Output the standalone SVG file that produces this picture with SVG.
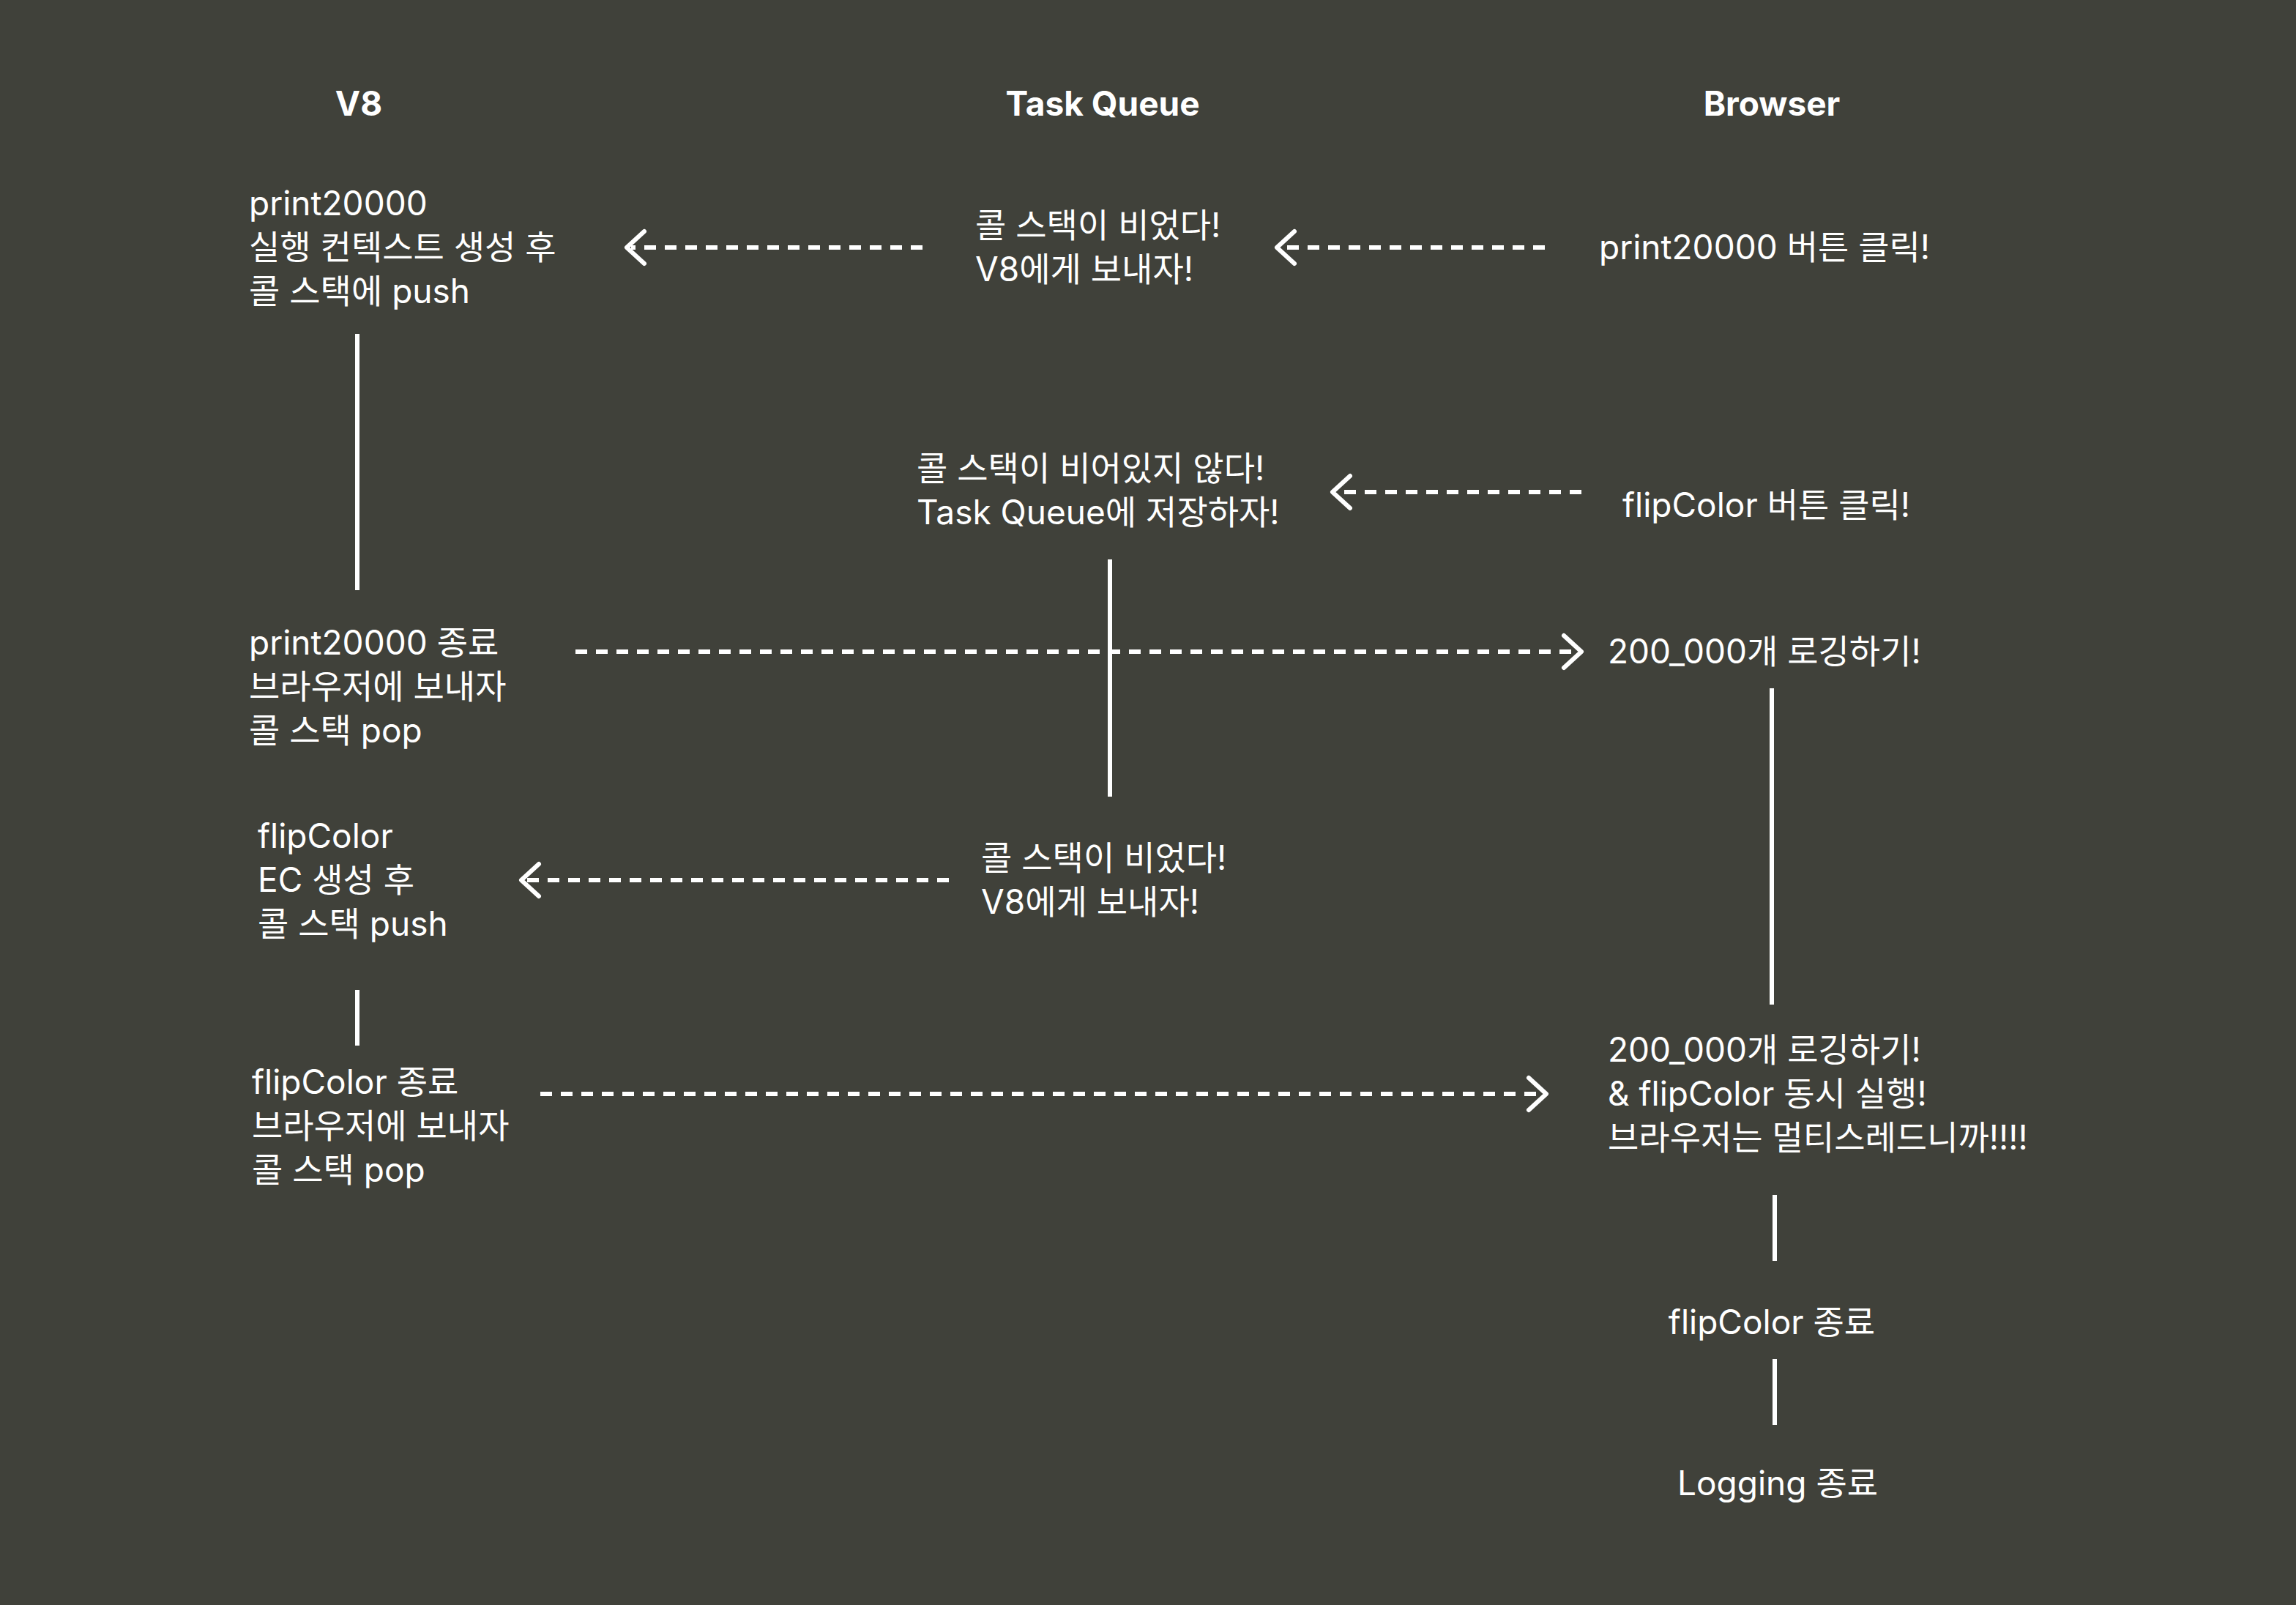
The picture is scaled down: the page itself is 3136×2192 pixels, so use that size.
<svg xmlns="http://www.w3.org/2000/svg" width="3136" height="2192" viewBox="0 0 3136 2192">
<style>
text{font-family:Inter,"Noto Sans","Noto Sans CJK KR",sans-serif;fill:#ffffff;font-size:46px}
.h{font-weight:700;text-anchor:middle;font-size:46px}
.c{text-anchor:middle}
.d{stroke:#fff;stroke-width:6;stroke-dasharray:16 12;fill:none}
.v{stroke:#fff;stroke-width:6}
.ah{stroke:#fff;stroke-width:6;fill:none;stroke-linecap:round;stroke-linejoin:round}
</style>
<rect width="3136" height="2192" fill="#40413a"/>
<g id="headers">
<text class="h" x="490" y="158">V8</text>
<text class="h" x="1506" y="158">Task Queue</text>
<text class="h" x="2420" y="158">Browser</text>
</g>
<g id="v8-1"><text x="340" y="294">print20000</text><text x="340" y="354">실행 컨텍스트 생성 후</text><text x="340" y="414">콜 스택에 push</text></g>
<g id="tq-1"><text x="1332" y="324">콜 스택이 비었다!</text><text x="1332" y="384">V8에게 보내자!</text></g>
<g id="br-1"><text x="2184" y="354">print20000 버튼 클릭!</text></g>
<g id="tq-2"><text x="1252" y="656">콜 스택이 비어있지 않다!</text><text x="1252" y="716">Task Queue에 저장하자!</text></g>
<g id="br-2"><text x="2216" y="706">flipColor 버튼 클릭!</text></g>
<g id="v8-2"><text x="340" y="894">print20000 종료</text><text x="340" y="954">브라우저에 보내자</text><text x="340" y="1014">콜 스택 pop</text></g>
<g id="br-3"><text x="2196" y="906">200_000개 로깅하기!</text></g>
<g id="v8-3"><text x="352" y="1158">flipColor</text><text x="352" y="1218">EC 생성 후</text><text x="352" y="1278">콜 스택 push</text></g>
<g id="tq-3"><text x="1340" y="1188">콜 스택이 비었다!</text><text x="1340" y="1248">V8에게 보내자!</text></g>
<g id="v8-4"><text x="344" y="1494">flipColor 종료</text><text x="344" y="1554">브라우저에 보내자</text><text x="344" y="1614">콜 스택 pop</text></g>
<g id="br-4"><text x="2196" y="1450">200_000개 로깅하기!</text><text x="2196" y="1510">&amp; flipColor 동시 실행!</text><text x="2196" y="1570">브라우저는 멀티스레드니까!!!!</text></g>
<g id="br-5"><text class="c" x="2420" y="1822">flipColor 종료</text></g>
<g id="br-6"><text class="c" x="2428" y="2042">Logging 종료</text></g>
<g id="connectors">
<line class="d" x1="1260" y1="338" x2="862" y2="338"/><polyline class="ah" points="880,316 856,338 880,360"/>
<line class="d" x1="2110" y1="338" x2="1750" y2="338"/><polyline class="ah" points="1768,316 1744,338 1768,360"/>
<line class="d" x1="2160" y1="672" x2="1826" y2="672"/><polyline class="ah" points="1844,650 1820,672 1844,694"/>
<line class="d" x1="786" y1="890" x2="2154" y2="890"/><polyline class="ah" points="2136,868 2160,890 2136,912"/>
<line class="d" x1="1296" y1="1202" x2="718" y2="1202"/><polyline class="ah" points="736,1180 712,1202 736,1224"/>
<line class="d" x1="738" y1="1494" x2="2106" y2="1494"/><polyline class="ah" points="2088,1472 2112,1494 2088,1516"/>
<line class="v" x1="488" y1="456" x2="488" y2="806"/>
<line class="v" x1="1516" y1="764" x2="1516" y2="1088"/>
<line class="v" x1="2420" y1="940" x2="2420" y2="1372"/>
<line class="v" x1="488" y1="1352" x2="488" y2="1428"/>
<line class="v" x1="2424" y1="1632" x2="2424" y2="1722"/>
<line class="v" x1="2424" y1="1856" x2="2424" y2="1946"/>
</g>
</svg>
